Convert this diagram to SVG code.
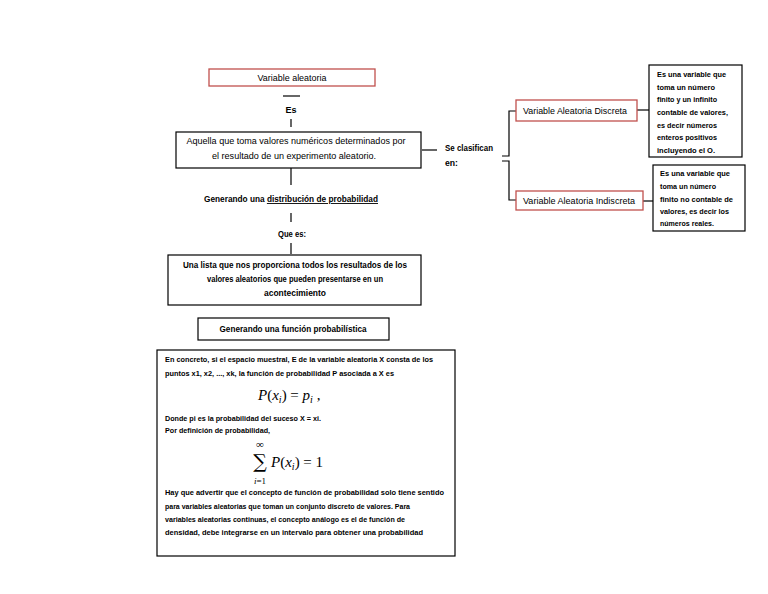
<svg xmlns="http://www.w3.org/2000/svg" width="768" height="594" viewBox="0 0 768 594">
<style>
text{font-family:"Liberation Sans",Arial,sans-serif;fill:#000;font-size:9px}
.r{fill:#fff;stroke:#c0504d;stroke-width:1.3}
.b{fill:#fff;stroke:#000;stroke-width:1.2}
.bd{font-weight:bold}
.s{font-size:7.5px;font-weight:bold}
.d{font-size:8px;font-weight:bold}
.c{text-anchor:middle}
.m{font-family:"Liberation Serif","DejaVu Serif",serif}
.it{font-style:italic}
.f15{font-size:15px}
.sub{font-size:10px;font-style:italic}
#connectors line,#connectors path{stroke:#000;stroke-width:1.2;fill:none}
</style>
<rect width="768" height="594" fill="#fff"/>

<g id="connectors">
<line x1="283" y1="96" x2="300" y2="96"/>
<line x1="291" y1="119" x2="291" y2="127"/>
<line x1="291" y1="168" x2="291" y2="185"/>
<line x1="291" y1="213" x2="291" y2="222"/>
<line x1="291" y1="243" x2="291" y2="254"/>
<line x1="422" y1="150" x2="437" y2="150"/>
<path d="M516,111 H509 V156 H502 M502,161 H509 V200 H516"/>
<line x1="637" y1="110" x2="649" y2="110"/>
<line x1="643" y1="201" x2="653" y2="201"/>
</g>

<g id="n-variable">
<rect class="r" x="209" y="69" width="166" height="17"/>
<text class="c" x="292" y="81" textLength="69" lengthAdjust="spacingAndGlyphs">Variable aleatoria</text>
</g>

<g id="l-es">
<text class="c bd" x="291" y="113">Es</text>
</g>

<g id="n-aquella">
<rect class="b" x="176" y="132" width="245" height="36"/>
<text class="c" x="296" y="144" textLength="219" lengthAdjust="spacingAndGlyphs">Aquella que toma valores numéricos determinados por</text>
<text class="c" x="294" y="159" textLength="164" lengthAdjust="spacingAndGlyphs">el resultado de un experimento aleatorio.</text>
</g>

<g id="l-clasifican">
<text class="bd" x="445" y="151" textLength="48" lengthAdjust="spacingAndGlyphs">Se clasifican</text>
<text class="bd" x="445" y="166" textLength="13" lengthAdjust="spacingAndGlyphs">en:</text>
</g>

<g id="l-distribucion">
<text class="c bd" x="291" y="202" textLength="174" lengthAdjust="spacingAndGlyphs">Generando una <tspan text-decoration="underline">distribución de probabilidad</tspan></text>
</g>

<g id="l-quees">
<text class="c bd" x="292" y="237" textLength="28" lengthAdjust="spacingAndGlyphs">Que es:</text>
</g>

<g id="n-lista">
<rect class="b" x="168" y="255" width="253" height="50"/>
<text class="c bd" x="295" y="268" textLength="224" lengthAdjust="spacingAndGlyphs">Una lista que nos proporciona todos los resultados de los</text>
<text class="c bd" x="295" y="282" textLength="176" lengthAdjust="spacingAndGlyphs">valores aleatorios que pueden presentarse en un</text>
<text class="c bd" x="295" y="296" textLength="62" lengthAdjust="spacingAndGlyphs">acontecimiento</text>
</g>

<g id="n-funcion">
<rect class="b" x="198" y="318" width="191" height="22"/>
<text class="c bd" x="293" y="332" textLength="147" lengthAdjust="spacingAndGlyphs">Generando una función probabilística</text>
</g>

<g id="n-concreto">
<rect class="b" x="157" y="350" width="298" height="206"/>
<text class="s" x="165" y="362" textLength="268" lengthAdjust="spacingAndGlyphs">En concreto, si el espacio muestral, E de la variable aleatoria X consta de los</text>
<text class="s" x="165" y="376" textLength="229" lengthAdjust="spacingAndGlyphs">puntos x1, x2, ..., xk, la función de probabilidad P asociada a X es</text>
<text class="m f15" x="258" y="400"><tspan class="it">P</tspan>(<tspan class="it">x</tspan><tspan class="sub" dy="3">i</tspan><tspan dy="-3">) = </tspan><tspan class="it">p</tspan><tspan class="sub" dy="3">i</tspan><tspan dy="-3"> ,</tspan></text>
<text class="s" x="165" y="421" textLength="156" lengthAdjust="spacingAndGlyphs">Donde pi es la probabilidad del suceso X = xi.</text>
<text class="s" x="165" y="433" textLength="105" lengthAdjust="spacingAndGlyphs">Por definición de probabilidad,</text>
<text class="m c" x="260" y="448" style="font-size:11px">∞</text>
<text class="c" x="260" y="468" style="font-size:19px;font-family:'DejaVu Serif',serif">∑</text>
<text class="m c" x="260" y="484" style="font-size:9px"><tspan class="it">i</tspan>=1</text>
<text class="m f15" x="271" y="467"><tspan class="it">P</tspan>(<tspan class="it">x</tspan><tspan class="sub" dy="3">i</tspan><tspan dy="-3">) = 1</tspan></text>
<text class="s" x="165" y="495" textLength="279" lengthAdjust="spacingAndGlyphs">Hay que advertir que el concepto de función de probabilidad solo tiene sentido</text>
<text class="s" x="165" y="509" textLength="245" lengthAdjust="spacingAndGlyphs">para variables aleatorias que toman un conjunto discreto de valores. Para</text>
<text class="s" x="165" y="522" textLength="240" lengthAdjust="spacingAndGlyphs">variables aleatorias continuas, el concepto análogo es el de función de</text>
<text class="s" x="165" y="535" textLength="258" lengthAdjust="spacingAndGlyphs">densidad, debe integrarse en un intervalo para obtener una probabilidad</text>
</g>

<g id="n-discreta">
<rect class="r" x="516" y="100" width="121" height="21"/>
<text x="523" y="114" textLength="104" lengthAdjust="spacingAndGlyphs">Variable Aleatoria Discreta</text>
</g>

<g id="n-indiscreta">
<rect class="r" x="516" y="191" width="127" height="19"/>
<text x="523" y="204" textLength="112" lengthAdjust="spacingAndGlyphs">Variable Aleatoria Indiscreta</text>
</g>

<g id="n-desc-discreta">
<rect class="b" x="649" y="65" width="93" height="92"/>
<text class="d" x="657" y="77" textLength="69" lengthAdjust="spacingAndGlyphs">Es una variable que</text>
<text class="d" x="657" y="90" textLength="58" lengthAdjust="spacingAndGlyphs">toma un número</text>
<text class="d" x="657" y="102" textLength="60" lengthAdjust="spacingAndGlyphs">finito y un infinito</text>
<text class="d" x="657" y="115" textLength="71" lengthAdjust="spacingAndGlyphs">contable de valores,</text>
<text class="d" x="657" y="128" textLength="60" lengthAdjust="spacingAndGlyphs">es decir números</text>
<text class="d" x="657" y="140" textLength="60" lengthAdjust="spacingAndGlyphs">enteros positivos</text>
<text class="d" x="657" y="153" textLength="58" lengthAdjust="spacingAndGlyphs">incluyendo el O.</text>
</g>

<g id="n-desc-indiscreta">
<rect class="b" x="653" y="165" width="92" height="66"/>
<text class="d" x="660" y="176" textLength="70" lengthAdjust="spacingAndGlyphs">Es una variable que</text>
<text class="d" x="660" y="189" textLength="56" lengthAdjust="spacingAndGlyphs">toma un número</text>
<text class="d" x="660" y="202" textLength="73" lengthAdjust="spacingAndGlyphs">finito no contable de</text>
<text class="d" x="660" y="214" textLength="69" lengthAdjust="spacingAndGlyphs">valores, es decir los</text>
<text class="d" x="660" y="226" textLength="54" lengthAdjust="spacingAndGlyphs">números reales.</text>
</g>
</svg>
